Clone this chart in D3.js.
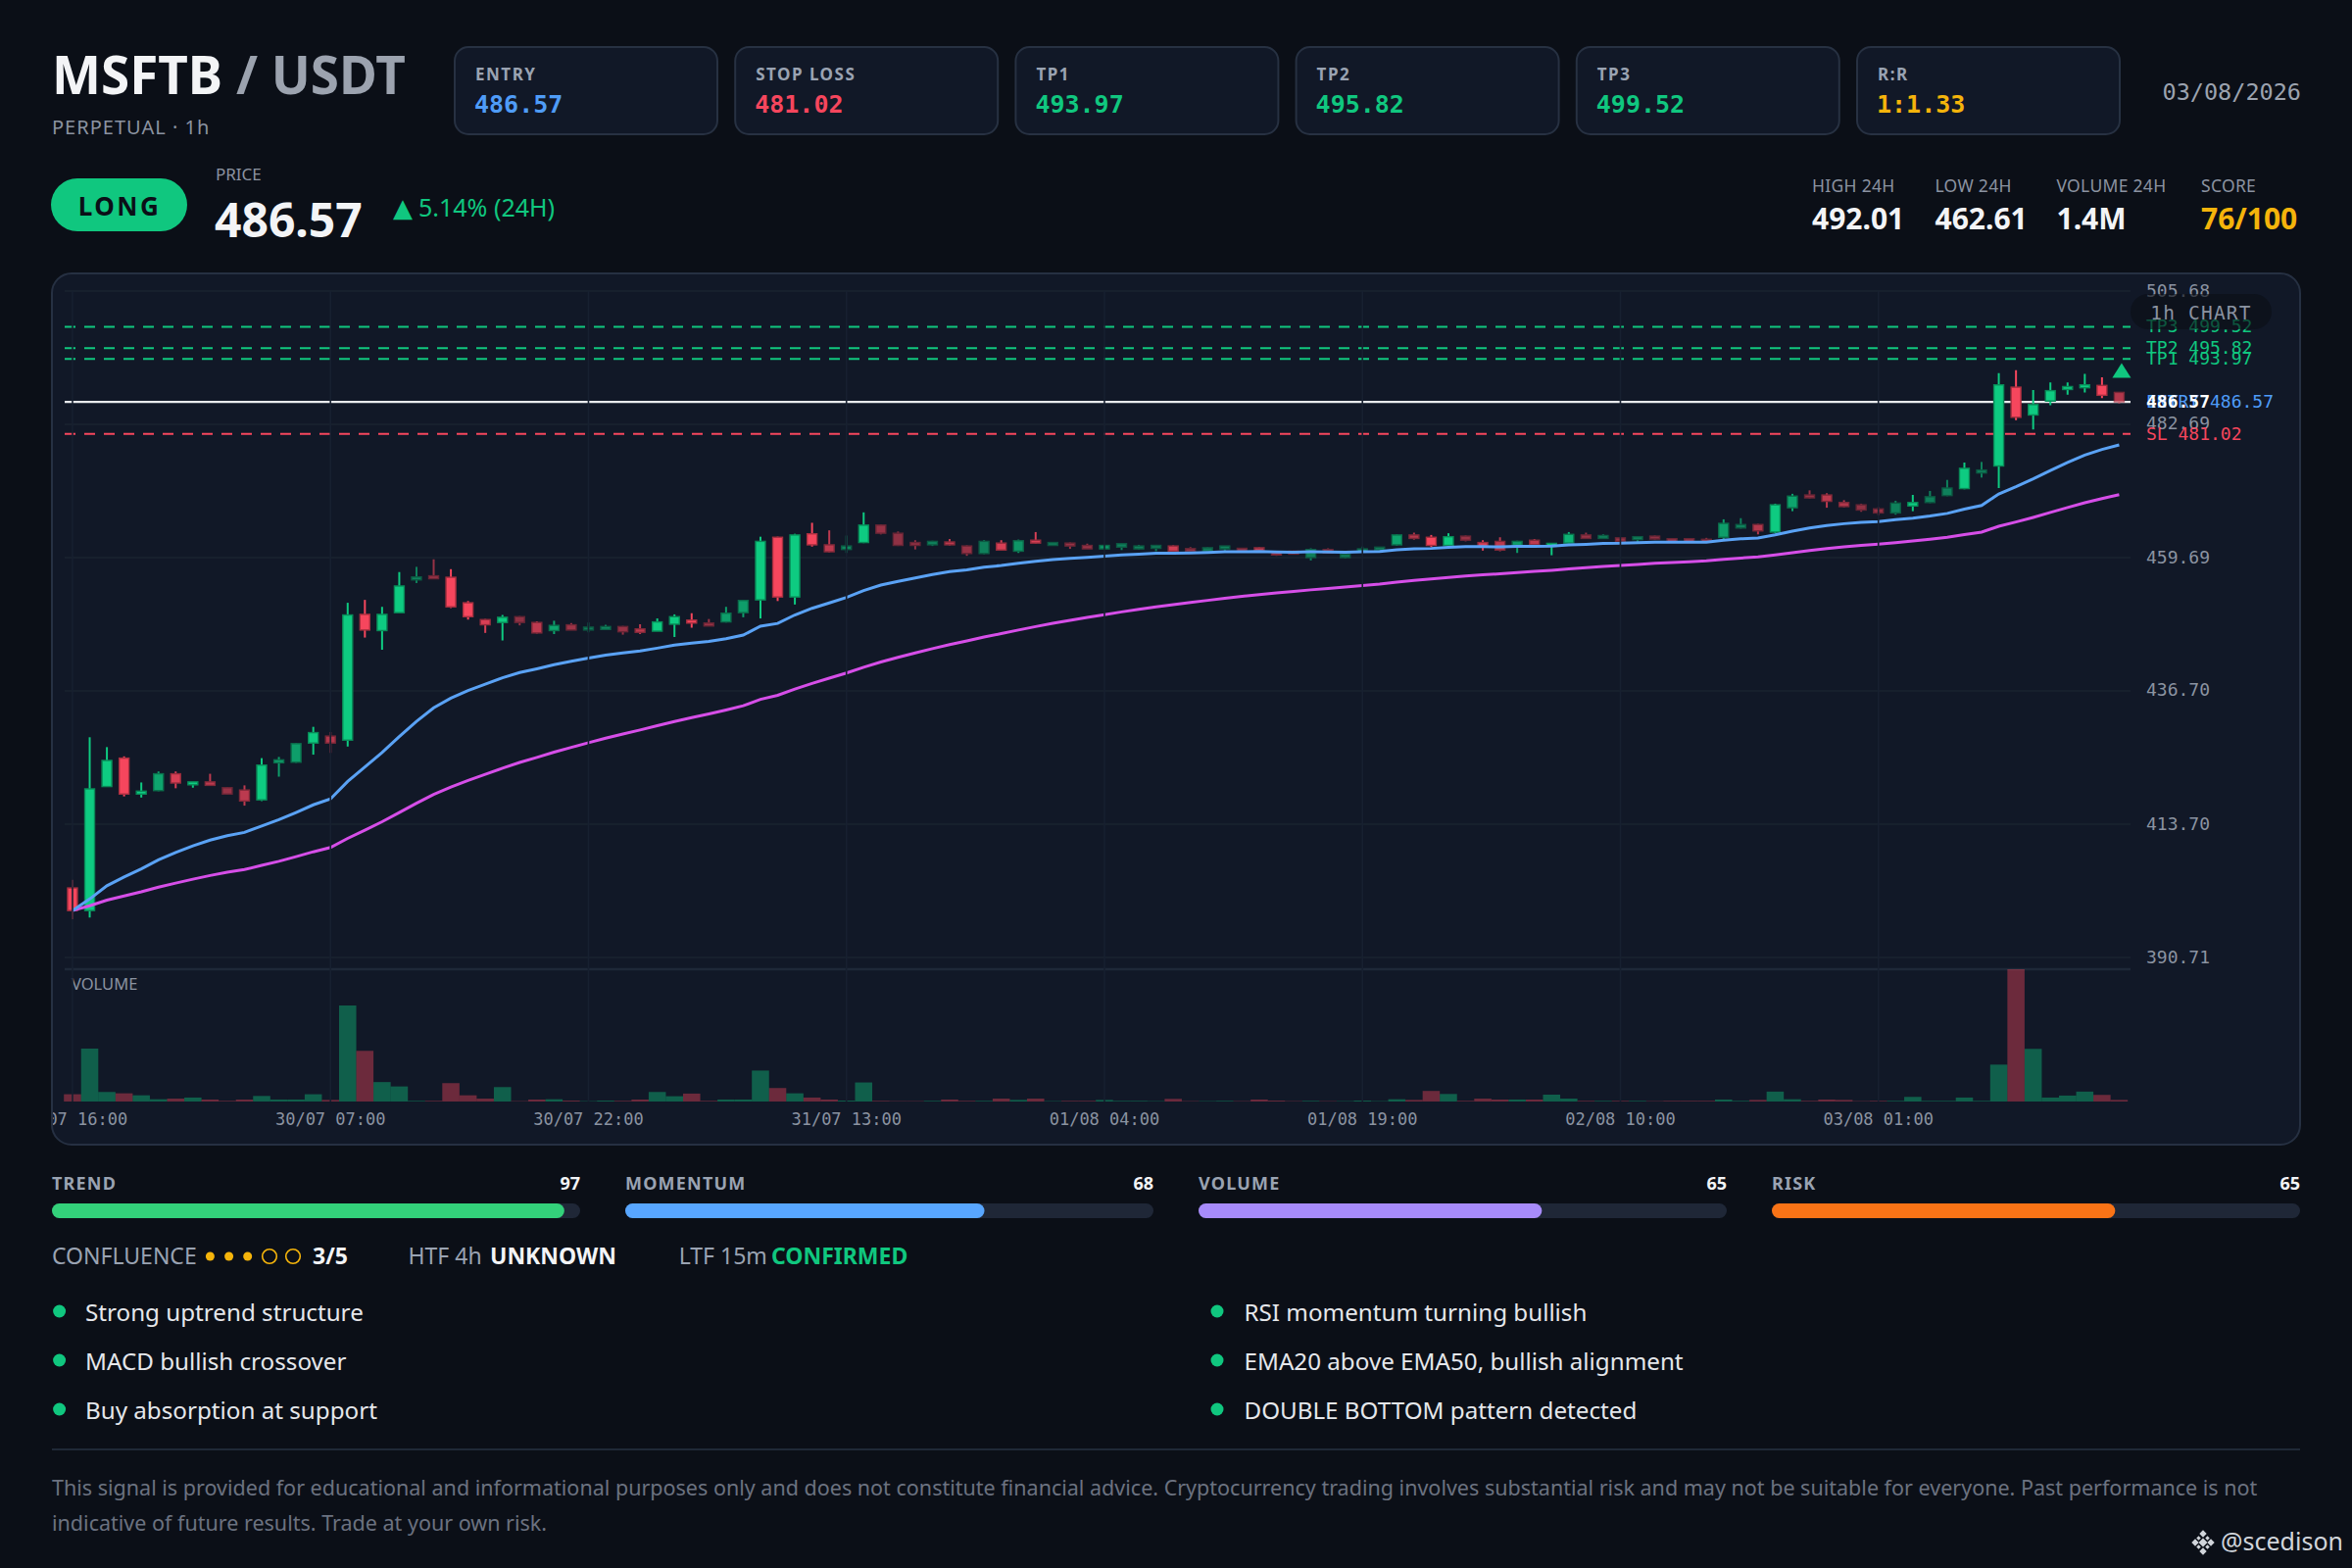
<!DOCTYPE html>
<html><head><meta charset="utf-8">
<script src="https://cdn.jsdelivr.net/npm/d3@7"></script>
<style>
html,body{margin:0;padding:0;background:#0b0f17;}
svg{display:block;font-family:"Noto Sans",sans-serif;}
</style></head><body>
<svg id="c" width="2400" height="1600"></svg>
<script>
// ---------------- DATA ----------------
const opens  = [402.7,398.8,420.2,425.1,418.9,419.5,422.4,420.6,421.0,420.0,419.6,417.9,424.3,424.4,427.7,428.9,428.2,449.9,447.1,450.2,
455.9,456.5,456.3,451.9,449.0,448.5,449.5,448.5,447.1,448.1,447.2,447.3,447.8,447.4,447.0,448.2,448.9,448.4,448.6,450.2,
452.4,463.2,452.9,463.8,461.9,461.1,462.3,465.3,463.9,462.3,461.9,462.4,461.7,460.4,462.2,460.8,462.7,461.9,462.2,461.8,
461.2,461.5,461.2,461.3,461.7,461.2,460.8,461.2,461.2,461.4,460.6,460.8,459.7,461.1,459.7,460.7,461.0,461.9,463.6,463.2,
461.8,463.4,462.3,462.5,461.8,462.7,461.7,462.2,463.6,463.0,463.1,462.8,463.4,462.9,462.9,462.8,463.2,464.8,465.4,464.1,
468.3,470.5,470.5,469.2,468.8,468.1,467.4,468.6,469.2,470.4,471.6,474.4,475.5,489.1,484.3,486.7,488.8,489.1,489.4,488.2];
const highs  = [404.1,428.7,427.0,425.4,420.9,422.8,422.8,421.0,422.4,420.1,420.4,425.1,425.3,427.7,430.5,429.6,451.9,452.4,451.2,457.2,
458.1,459.4,457.7,452.2,449.1,449.8,449.6,448.7,448.8,448.4,448.5,448.1,447.9,448.2,449.2,449.9,450.1,449.1,451.2,452.4,
463.3,463.3,463.8,465.7,464.4,463.5,467.5,465.4,464.2,462.7,462.6,462.9,461.8,462.7,462.7,462.8,464.1,462.3,462.3,462.1,
461.9,462.1,461.9,461.9,461.8,461.5,461.5,461.7,461.3,461.5,460.7,460.9,461.3,461.3,460.6,461.6,461.5,463.7,464.0,463.6,
463.9,463.5,462.7,463.2,462.6,462.9,462.2,464.1,464.0,463.7,463.2,463.3,463.5,463.0,463.0,463.1,466.3,466.5,465.5,469.0,
470.7,471.3,470.8,469.6,469.0,468.4,469.5,470.5,471.2,473.1,476.1,476.2,491.5,492.01,488.6,489.9,489.9,491.4,490.8,488.2];
const lows   = [397.3,397.6,420.2,418.5,418.3,419.4,419.9,420.0,420.4,418.8,416.9,417.7,421.9,424.3,425.7,426.0,427.1,445.9,443.8,450.2,
455.3,456.1,451.0,449.0,446.7,445.4,448.0,446.6,446.5,447.2,446.8,447.2,446.4,446.5,447.0,446.0,447.6,447.9,448.5,449.4,
449.2,452.2,451.6,461.6,460.6,460.5,462.2,463.7,461.7,461.1,461.7,461.8,460.0,460.3,461.0,460.5,462.1,461.8,461.2,461.2,
461.1,461.0,461.1,460.8,460.7,460.7,460.7,460.9,460.8,460.8,460.0,460.2,459.2,460.4,459.6,460.6,460.9,461.8,462.8,461.5,
461.7,462.5,460.9,460.8,460.5,461.8,460.1,462.1,462.9,462.9,462.4,462.4,462.8,462.4,462.4,462.3,462.61,464.7,463.7,463.9,
467.7,469.9,468.3,468.4,467.6,467.0,467.1,467.7,469.1,470.3,471.5,473.5,471.7,483.4,481.8,486.0,487.8,488.2,487.2,486.3];
const closes = [398.8,419.8,424.7,418.9,419.4,422.4,420.8,420.9,420.4,418.9,417.7,423.9,424.8,427.6,429.5,427.7,449.8,447.2,449.9,454.8,
456.3,456.1,451.2,449.5,448.1,449.4,448.5,446.7,448.0,447.2,447.7,447.8,446.9,446.8,448.6,449.5,448.4,447.9,450.1,452.3,
462.5,452.9,463.6,461.9,460.7,461.7,465.3,463.9,461.8,461.8,462.5,461.9,460.4,462.5,461.0,462.6,462.2,462.2,461.7,461.2,
461.8,462.1,461.7,461.8,460.8,460.8,461.4,461.7,460.9,460.9,460.2,460.3,461.1,460.5,460.3,461.2,461.5,463.6,463.0,461.8,
463.3,462.7,461.6,461.0,462.5,461.9,462.1,463.7,463.0,463.5,462.5,463.3,462.9,462.5,462.5,462.4,465.6,465.4,464.3,468.8,
470.3,470.0,469.4,468.5,467.9,467.4,469.1,469.2,470.2,471.7,475.1,474.7,489.5,483.9,486.1,488.5,489.1,489.4,487.7,486.57];
const volumes = [5.5,40,7.2,6.2,4.7,1.7,2.2,3,1.5,0.5,1.5,4.2,1.5,1.5,5.5,1.2,72.6,38.3,14.7,11.4,
0.5,0.5,13.9,4.7,2.2,10.9,0.3,1.5,1.7,0.7,0.3,0.7,0.5,1.5,7.2,4,6,0.5,1.5,1.5,
23.4,10.2,6.2,3,1.5,0.7,14.4,0.5,0.3,0.3,0.5,1.5,0.5,0.5,2.2,1.2,2.2,0.3,0.5,0.5,
1.2,0.5,0.5,0.3,2,0.3,0.3,0.5,0.3,1.5,0.7,0.3,0.5,0.3,0.3,0.7,0.3,1.7,1.2,8,
5.7,0.5,2.2,1.5,1.5,1.5,5.2,2.2,0.5,0.5,0.5,0.5,0.3,0.5,0.5,0.5,1.5,0.5,1.2,7.5,
1.7,0.5,1.5,1.2,0.3,0.5,0.5,3.5,0.5,0.5,3,0.5,27.9,100,39.8,3,4.5,7.5,5,1.2];
const xTickIndex  = [0,15,30,45,60,75,90,105];
const xTickLabels = ["29/07 16:00","30/07 07:00","30/07 22:00","31/07 13:00","01/08 04:00","01/08 19:00","02/08 10:00","03/08 01:00"];
const priceTicks  = [505.68,482.69,459.69,436.70,413.70,390.71];
const levelNames  = ["TP3","TP2","TP1","SL"];
const levelValues = [499.52,495.82,493.97,481.02];
const entryPrice  = 486.57;
const cardLabels  = ["ENTRY","STOP LOSS","TP1","TP2","TP3","R:R"];
const cardValues  = ["486.57","481.02","493.97","495.82","499.52","1:1.33"];
const statLabels  = ["HIGH 24H","LOW 24H","VOLUME 24H","SCORE"];
const statValues  = ["492.01","462.61","1.4M","76/100"];
const scoreNames  = ["TREND","MOMENTUM","VOLUME","RISK"];
const scoreValues = [97,68,65,65];
const bulletsLeft  = ["Strong uptrend structure","MACD bullish crossover","Buy absorption at support"];
const bulletsRight = ["RSI momentum turning bullish","EMA20 above EMA50, bullish alignment","DOUBLE BOTTOM pattern detected"];
const disclaimer = ["This signal is provided for educational and informational purposes only and does not constitute financial advice. Cryptocurrency trading involves substantial risk and may not be suitable for everyone. Past performance is not",
"indicative of future results. Trade at your own risk."];

// ---------------- STYLE ----------------
const C = {bg:"#0b0f17", panel:"#111827", border:"#263042", grid:"#1a2331", up:"#0ecb81", down:"#f6465d",
  green:"#10c77f", blue:"#4f9cf7", yellow:"#f5b40b", axis:"#8b93a1", label:"#9aa3b2", white:"#f3f4f6"};
const MONO = "'DejaVu Sans Mono',monospace";

const svg = d3.select("#c");
svg.append("rect").attr("width",2400).attr("height",1600).attr("fill",C.bg);

// ---------------- HEADER ----------------
const title = svg.append("text").attr("x",53).attr("y",96).attr("font-size",53).attr("font-weight",700);
title.append("tspan").attr("fill",C.white).text("MSFTB");
title.append("tspan").attr("fill","#9ca3af").text(" / USDT");
svg.append("text").attr("x",53).attr("y",137).attr("font-size",20).attr("letter-spacing",1).attr("fill",C.axis).text("PERPETUAL · 1h");

const cardColors = [C.blue,C.down,C.green,C.green,C.green,C.yellow];
cardLabels.forEach((lab,k)=>{
  const x = 464 + k*286.2;
  svg.append("rect").attr("x",x).attr("y",48).attr("width",268).attr("height",89).attr("rx",14)
    .attr("fill",C.panel).attr("stroke","#273142").attr("stroke-width",2);
  svg.append("text").attr("x",x+21).attr("y",82).attr("font-size",17).attr("font-weight",700)
    .attr("letter-spacing",1.5).attr("fill",C.label).text(lab);
  svg.append("text").attr("x",x+20).attr("y",115).attr("font-size",25).attr("font-weight",700)
    .style("font-family",MONO).attr("fill",cardColors[k]).text(cardValues[k]);
});
svg.append("text").attr("x",2348).attr("y",102).attr("text-anchor","end").attr("font-size",23.5)
  .style("font-family",MONO).attr("fill","#9ca3af").text("03/08/2026");

svg.append("rect").attr("x",52).attr("y",182).attr("width",139).attr("height",54).attr("rx",27).attr("fill",C.green);
svg.append("text").attr("x",122).attr("y",220).attr("text-anchor","middle").attr("font-size",26).attr("font-weight",700)
  .attr("letter-spacing",2.5).attr("fill",C.bg).text("LONG");
svg.append("text").attr("x",220).attr("y",184).attr("font-size",17).attr("fill",C.axis).text("PRICE");
svg.append("text").attr("x",219).attr("y",242).attr("font-size",48).attr("font-weight",700).attr("fill",C.white).text("486.57");
const chg = svg.append("text").attr("x",401).attr("y",221).attr("font-size",25).attr("fill",C.green);
chg.append("tspan").style("font-family","'DejaVu Sans',sans-serif").attr("font-size",26).text("▲");
chg.append("tspan").attr("dx",6).text("5.14% (24H)");

const statX = [1849,1974.5,2098.5,2246];
statLabels.forEach((lab,k)=>{
  svg.append("text").attr("x",statX[k]).attr("y",196).attr("font-size",17.5).attr("letter-spacing",0.3).attr("fill",C.axis).text(lab);
  svg.append("text").attr("x",statX[k]).attr("y",234).attr("font-size",30).attr("font-weight",700)
    .attr("fill",k===3?C.yellow:C.white).text(statValues[k]);
});

// ---------------- CHART PANEL ----------------
const P = {x:53, y:279, w:2294, h:889};
svg.append("clipPath").attr("id","pclip").append("rect").attr("x",P.x).attr("y",P.y).attr("width",P.w).attr("height",P.h).attr("rx",20);
svg.append("rect").attr("x",P.x).attr("y",P.y).attr("width",P.w).attr("height",P.h).attr("rx",20).attr("fill",C.panel);
const g = svg.append("g").attr("clip-path","url(#pclip)");

const N = closes.length;
const x = d3.scaleBand().domain(d3.range(N)).range([65.2, 65.2 + 17.55*N]).padding(0);
const cx = i => x(i) + x.bandwidth()/2;
const plotL = 66, plotR = 2174;
const y = d3.scaleLinear().domain([d3.min(priceTicks), d3.max(priceTicks)]).range([977, 297]);
const yv = d3.scaleLinear().domain([0, d3.max(volumes)]).range([1124, 989]);

// horizontal grid
g.selectAll(".hg").data(priceTicks).join("line").attr("x1",plotL).attr("x2",plotR)
  .attr("y1",d=>y(d)).attr("y2",d=>y(d)).attr("stroke",C.grid).attr("stroke-width",1.5);

// volume panel
g.append("line").attr("x1",plotL).attr("x2",plotR).attr("y1",989).attr("y2",989).attr("stroke","#1e2838").attr("stroke-width",2.5);
g.selectAll(".vb").data(volumes).join("rect")
  .attr("x",(d,i)=>x(i)).attr("width",x.bandwidth())
  .attr("y",d=>yv(d)).attr("height",d=>yv(0)-yv(d))
  .attr("fill",(d,i)=>closes[i]>=opens[i]?C.up:C.down).attr("fill-opacity",0.4);
g.append("text").attr("x",73).attr("y",1010).attr("font-size",16.5).attr("fill",C.axis).text("VOLUME");

// level lines
const levelColors = [C.green,C.green,C.green,C.down];
levelValues.forEach((v,k)=>{
  g.append("line").attr("x1",plotL).attr("x2",plotR).attr("y1",y(v)).attr("y2",y(v))
    .attr("stroke",levelColors[k]).attr("stroke-width",2).attr("stroke-dasharray","11,9");
});
g.append("line").attr("x1",plotL).attr("x2",plotR).attr("y1",y(entryPrice)).attr("y2",y(entryPrice))
  .attr("stroke","#e8eaed").attr("stroke-width",2.2);

// candles
const cg = g.append("g");
const bw = 10;
d3.range(N).forEach(i=>{
  const up = closes[i] >= opens[i];
  const col = up ? C.up : C.down;
  const op = Math.min(1, 0.5 + volumes[i]/6);
  const c = cg.append("g").attr("opacity",op);
  c.append("line").attr("x1",cx(i)).attr("x2",cx(i)).attr("y1",y(highs[i])).attr("y2",y(lows[i]))
    .attr("stroke",col).attr("stroke-width",2);
  const top = y(Math.max(opens[i],closes[i])), bot = y(Math.min(opens[i],closes[i]));
  const h = Math.max(3, bot-top);
  c.append("rect").attr("x",cx(i)-bw/2).attr("y",top - (h-(bot-top))/2).attr("width",bw).attr("height",h)
    .attr("fill",col).attr("stroke",d3.color(col).darker(1.1)).attr("stroke-width",1.4);
});

// EMA indicators computed from the closes
function ema(values, period){
  const k = 2/(period+1), out = [];
  values.forEach((v,i)=> out.push(i===0 ? v : v*k + out[i-1]*(1-k)));
  return out;
}
const ema20 = ema(closes,20), ema50 = ema(closes,50);
const line = d3.line().x((d,i)=>cx(i)).y(d=>y(d));
g.append("path").datum(ema50).attr("d",line).attr("fill","none").attr("stroke","#d64ee8").attr("stroke-width",3);
g.append("path").datum(ema20).attr("d",line).attr("fill","none").attr("stroke","#5aa2f5").attr("stroke-width",3);

// vertical grid (on top)
g.selectAll(".vg").data(xTickIndex).join("line").attr("x1",d=>cx(d)).attr("x2",d=>cx(d))
  .attr("y1",297).attr("y2",1124).attr("stroke","#172030").attr("stroke-width",1.6);

// signal marker
const li = N-1;
const my = y(highs[li]) - 15;
g.append("path").attr("d",`M${cx(li)+2.5-9.5},${my} L${cx(li)+2.5+9.5},${my} L${cx(li)+2.5},${my-15} Z`).attr("fill",C.green);

// x labels
g.selectAll(".xl").data(xTickIndex).join("text").attr("x",d=>cx(d)).attr("y",1148).attr("text-anchor","middle")
  .attr("font-size",17).style("font-family",MONO).attr("fill",C.axis).text((d,k)=>xTickLabels[k]);

// price axis labels
const labX = 2190;
g.selectAll(".pl").data(priceTicks).join("text").attr("x",labX).attr("y",d=>y(d)+5.5)
  .attr("font-size",18).style("font-family",MONO).attr("fill",C.axis).text(d=>d.toFixed(2));
levelValues.forEach((v,k)=>{
  g.append("text").attr("x",labX).attr("y",y(v)+6).attr("font-size",18).style("font-family",MONO)
    .attr("fill",levelColors[k]).text(levelNames[k]+" "+v.toFixed(2));
});
g.append("text").attr("x",labX).attr("y",y(entryPrice)+6).attr("font-size",18).style("font-family",MONO)
  .attr("fill",C.blue).text("ENTRY "+entryPrice.toFixed(2));
g.append("text").attr("x",labX).attr("y",y(entryPrice)+6).attr("font-size",18).attr("font-weight",700).style("font-family",MONO)
  .attr("fill","#ffffff").text(closes[N-1].toFixed(2));

// 1h chart badge
g.append("rect").attr("x",2174).attr("y",300).attr("width",144).attr("height",36).attr("rx",18)
  .attr("fill","#0b0f17").attr("fill-opacity",0.62);
g.append("text").attr("x",2246).attr("y",326).attr("text-anchor","middle").attr("font-size",19.5)
  .attr("letter-spacing",1.2).style("font-family",MONO).attr("fill",C.axis).text("1h CHART");

svg.append("rect").attr("x",P.x).attr("y",P.y).attr("width",P.w).attr("height",P.h).attr("rx",20)
  .attr("fill","none").attr("stroke",C.border).attr("stroke-width",2);

// ---------------- SCORES ----------------
const scoreColors = ["#33d17a","#58a6ff","#a78bfa","#f97316"];
const sx = d3.scaleLinear().domain([0,100]).range([0,539]);
scoreNames.forEach((nm,k)=>{
  const x0 = 53 + k*585;
  svg.append("text").attr("x",x0).attr("y",1214).attr("font-size",18).attr("font-weight",700)
    .attr("letter-spacing",1.2).attr("fill",C.label).text(nm);
  svg.append("text").attr("x",x0+539).attr("y",1214).attr("text-anchor","end").attr("font-size",18).attr("font-weight",700)
    .attr("fill",C.white).text(scoreValues[k]);
  svg.append("rect").attr("x",x0).attr("y",1228).attr("width",sx(100)).attr("height",15).attr("rx",7.5).attr("fill","#1f2737");
  svg.append("rect").attr("x",x0).attr("y",1228).attr("width",sx(scoreValues[k])).attr("height",15).attr("rx",7.5).attr("fill",scoreColors[k]);
});

// confluence row
const cy = 1290;
svg.append("text").attr("x",53).attr("y",cy).attr("font-size",23).attr("fill",C.label).text("CONFLUENCE");
[214.4,233.6,252.7].forEach(px=>svg.append("circle").attr("cx",px).attr("cy",cy-8).attr("r",4.5).attr("fill",C.yellow));
[275,299].forEach(px=>svg.append("circle").attr("cx",px).attr("cy",cy-8).attr("r",7.3).attr("fill","none").attr("stroke",C.yellow).attr("stroke-width",1.6));
svg.append("text").attr("x",319).attr("y",cy).attr("font-size",23).attr("font-weight",700).attr("fill",C.white).text("3/5");
svg.append("text").attr("x",416.5).attr("y",cy).attr("font-size",23).attr("fill",C.label).text("HTF 4h");
svg.append("text").attr("x",500).attr("y",cy).attr("font-size",23).attr("font-weight",700).attr("fill",C.white).text("UNKNOWN");
svg.append("text").attr("x",692.7).attr("y",cy).attr("font-size",23).attr("fill",C.label).text("LTF 15m");
svg.append("text").attr("x",787).attr("y",cy).attr("font-size",23).attr("font-weight",700).attr("fill",C.green).text("CONFIRMED");

// bullets
const rowY = [1338,1388,1438];
[[bulletsLeft,60.6,87],[bulletsRight,1242,1269.5]].forEach(([arr,dx,tx])=>{
  arr.forEach((t,k)=>{
    svg.append("circle").attr("cx",dx).attr("cy",rowY[k]).attr("r",6.5).attr("fill",C.green);
    svg.append("text").attr("x",tx).attr("y",rowY[k]+9.5).attr("font-size",24.2).attr("fill","#e5e7eb").text(t);
  });
});

svg.append("line").attr("x1",53).attr("x2",2347).attr("y1",1479).attr("y2",1479).attr("stroke","#1f2937").attr("stroke-width",2);

// disclaimer
const d1 = svg.append("text").attr("x",53).attr("y",1526).attr("font-size",22).attr("fill","#6b7280").text(disclaimer[0]);
const w1 = d1.node().getComputedTextLength();
const fs = w1 > 0 ? 22*2251/w1 : 22;
d1.attr("font-size",fs);
svg.append("text").attr("x",53).attr("y",1562).attr("font-size",fs).attr("fill","#6b7280").text(disclaimer[1]);

// watermark
const wm = svg.append("g").attr("transform","translate(2248,1574)").attr("fill","#d1d5db");
[[0,0,3.2],[0,-9,2.6],[0,9,2.6],[-8,0,2.6],[8,0,2.6],[-4.5,-4.5,1.6],[4.5,-4.5,1.6],[-4.5,4.5,1.6],[4.5,4.5,1.6]].forEach(([a,b,s])=>{
  wm.append("rect").attr("x",a-s).attr("y",b-s).attr("width",2*s).attr("height",2*s).attr("transform",`rotate(45,${a},${b})`);
});
svg.append("text").attr("x",2391).attr("y",1582).attr("text-anchor","end").attr("font-size",25).attr("fill","#d1d5db").text("@scedison");
</script>
</body></html>
